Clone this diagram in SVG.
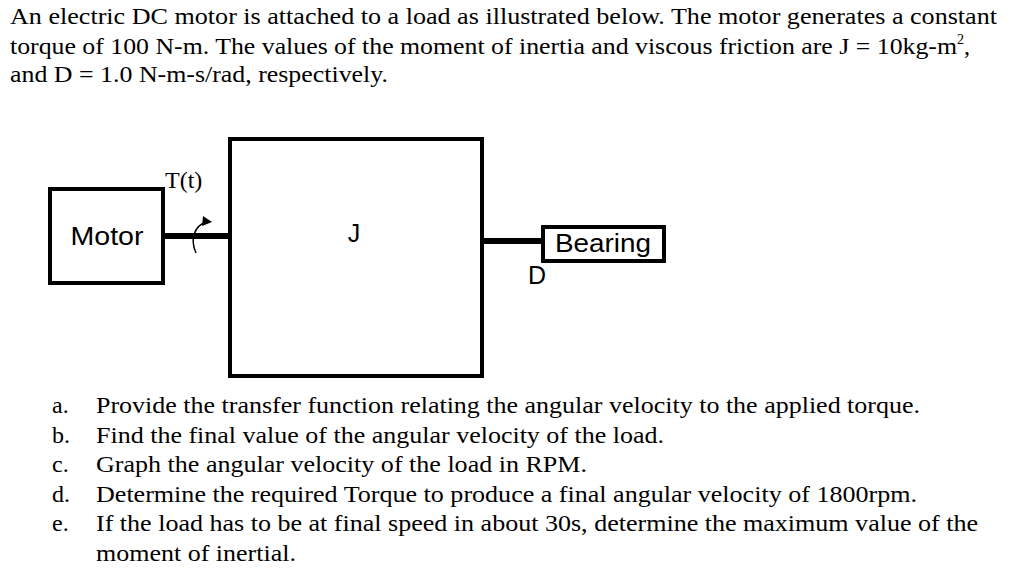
<svg xmlns="http://www.w3.org/2000/svg" width="1024" height="584" viewBox="0 0 1024 584">
<style>
.t{font-family:"Liberation Serif",serif;font-size:24px;fill:#000}
.s{font-family:"Liberation Sans",sans-serif;font-size:25px;fill:#000}
.b{fill:#fff;stroke:#000;stroke-width:4}
</style>
<rect width="1024" height="584" fill="#fff"/>
<text class="t" x="10" y="24" textLength="987" lengthAdjust="spacingAndGlyphs">An electric DC motor is attached to a load as illustrated below. The motor generates a constant</text>
<text class="t" x="10" y="54"><tspan textLength="947" lengthAdjust="spacingAndGlyphs">torque of 100 N-m.  The values of the moment of inertia and viscous friction are  J = 10kg-m</tspan><tspan font-size="14" dy="-10">2</tspan><tspan dy="10">,</tspan></text>
<text class="t" x="10" y="82" textLength="378" lengthAdjust="spacingAndGlyphs">and D = 1.0 N-m-s/rad, respectively.</text>
<g id="connectors" stroke="#000" stroke-width="6" fill="none">
<line x1="163" y1="236" x2="229" y2="236"/>
<line x1="482" y1="241" x2="541" y2="241"/>
<path d="M196,253 C190,240 194,226 206,222" stroke-width="1.5"/>
<path d="M203,216 L212,222 L202,226 Z" fill="#000" stroke="none"/>
</g>
<g id="motor"><rect class="b" x="50" y="189" width="113" height="94"/><text class="s" x="107" y="245" text-anchor="middle" textLength="73" lengthAdjust="spacingAndGlyphs">Motor</text></g>
<g id="J"><rect class="b" x="230" y="139" width="252" height="237"/><text class="s" x="354" y="242" text-anchor="middle">J</text></g>
<g id="bearing"><rect class="b" x="543" y="227" width="121" height="34"/><text class="s" x="603" y="252" text-anchor="middle" textLength="96" lengthAdjust="spacingAndGlyphs">Bearing</text></g>
<text class="s" x="537" y="284" text-anchor="middle">D</text>
<text class="t" x="165" y="188" font-size="26">T(t)</text>
<g class="t">
<text x="52" y="413">a.</text><text x="96" y="413" textLength="824" lengthAdjust="spacingAndGlyphs">Provide the transfer function relating the angular velocity to the applied torque.</text>
<text x="52" y="443">b.</text><text x="96" y="443" textLength="568" lengthAdjust="spacingAndGlyphs">Find the final value of the angular velocity of the load.</text>
<text x="52" y="472">c.</text><text x="96" y="472" textLength="491" lengthAdjust="spacingAndGlyphs">Graph the angular velocity of the load in RPM.</text>
<text x="52" y="502">d.</text><text x="96" y="502" textLength="821" lengthAdjust="spacingAndGlyphs">Determine the required Torque to produce a final angular velocity of 1800rpm.</text>
<text x="52" y="531">e.</text><text x="96" y="531" textLength="882" lengthAdjust="spacingAndGlyphs">If the load has to be at final speed in about 30s, determine the maximum value of the</text>
<text x="96" y="561" textLength="200" lengthAdjust="spacingAndGlyphs">moment of inertial.</text>
</g>
</svg>
